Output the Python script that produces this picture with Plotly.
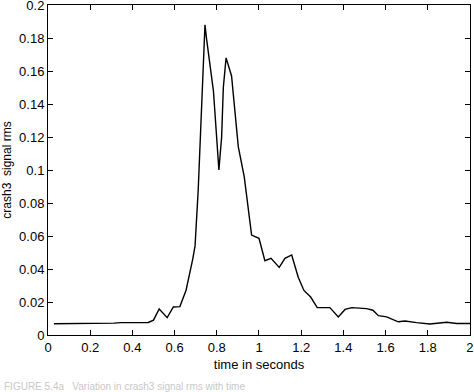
import plotly.graph_objects as go

time_s = [0.028, 0.0625, 0.094, 0.125, 0.156, 0.1875, 0.22, 0.25, 0.28, 0.3125, 0.344, 0.375, 0.406, 0.4375, 0.475,
          0.5, 0.527, 0.565, 0.594, 0.625, 0.654, 0.686, 0.697, 0.712, 0.722, 0.728, 0.744, 0.752, 0.776, 0.784,
          0.81, 0.823, 0.831, 0.844, 0.87, 0.902, 0.93, 0.965, 1.0, 1.028, 1.057, 1.096, 1.123, 1.155, 1.186,
          1.213, 1.245, 1.276, 1.336, 1.376, 1.408, 1.44, 1.51, 1.54, 1.566, 1.605, 1.66, 1.692, 1.747, 1.81,
          1.89, 1.937, 2.0]
rms = [0.0068, 0.0068, 0.0068, 0.0072, 0.007, 0.0068, 0.0068, 0.0068, 0.0068, 0.0072, 0.0075, 0.0075, 0.0075, 0.0075, 0.0076,
       0.009, 0.0158, 0.0105, 0.017, 0.0172, 0.027, 0.046, 0.054, 0.088, 0.12, 0.138, 0.188, 0.179, 0.156, 0.148,
       0.1, 0.12, 0.15, 0.168, 0.157, 0.114, 0.096, 0.0606, 0.0586, 0.045, 0.0465, 0.041, 0.0465, 0.0485, 0.035,
       0.027, 0.023, 0.0166, 0.0166, 0.011, 0.0155, 0.0166, 0.016, 0.015, 0.0117, 0.011, 0.008, 0.0085, 0.0075, 0.0067,
       0.0077, 0.007, 0.007]

x_ticks = [0, 0.2, 0.4, 0.6, 0.8, 1, 1.2, 1.4, 1.6, 1.8, 2]
x_labels = ["0", "0.2", "0.4", "0.6", "0.8", "1", "1.2", "1.4", "1.6", "1.8", "2"]
y_ticks = [0, 0.02, 0.04, 0.06, 0.08, 0.1, 0.12, 0.14, 0.16, 0.18, 0.2]
y_labels = ["0", "0.02", "0.04", "0.06", "0.08", "0.1", "0.12", "0.14", "0.16", "0.18", "0.2"]

FONT = "Liberation Sans, Arial, sans-serif"

fig = go.Figure()
fig.add_trace(go.Scatter(x=time_s, y=rms, mode="lines",
                         line=dict(color="black", width=1.4), showlegend=False))

axis_common = dict(showline=True, linecolor="black", linewidth=1, mirror="ticks",
                   ticks="inside", ticklen=5, tickcolor="black", tickwidth=1,
                   showgrid=False, zeroline=False, automargin=False,
                   ticklabeloverflow="allow",
                   tickfont=dict(family=FONT, size=13, color="black"))

fig.update_xaxes(range=[0, 2.0001], tickvals=x_ticks, ticktext=x_labels,
                 title=dict(text="time in seconds", font=dict(family=FONT, size=13, color="black"), standoff=6),
                 **axis_common)
fig.update_yaxes(range=[0, 0.20002], tickvals=y_ticks, ticktext=y_labels,
                 title=dict(text="crash3  signal rms", font=dict(family=FONT, size=12, color="black"), standoff=4),
                 **axis_common)

fig.add_annotation(text="FIGURE 5.4a   Variation in crash3 signal rms with time", xref="paper", yref="paper",
                   x=-0.11, y=-0.133, xanchor="left", yanchor="top", showarrow=False,
                   font=dict(family=FONT, size=10, color="#c8c8c8"))

fig.update_layout(width=474, height=392, margin=dict(l=48, r=4, t=5, b=57),
                  plot_bgcolor="white", paper_bgcolor="white")

fig.write_html("out.html", config={"displayModeBar": False, "staticPlot": True},
               post_script="document.body.style.margin='0';document.body.style.padding='0';")
